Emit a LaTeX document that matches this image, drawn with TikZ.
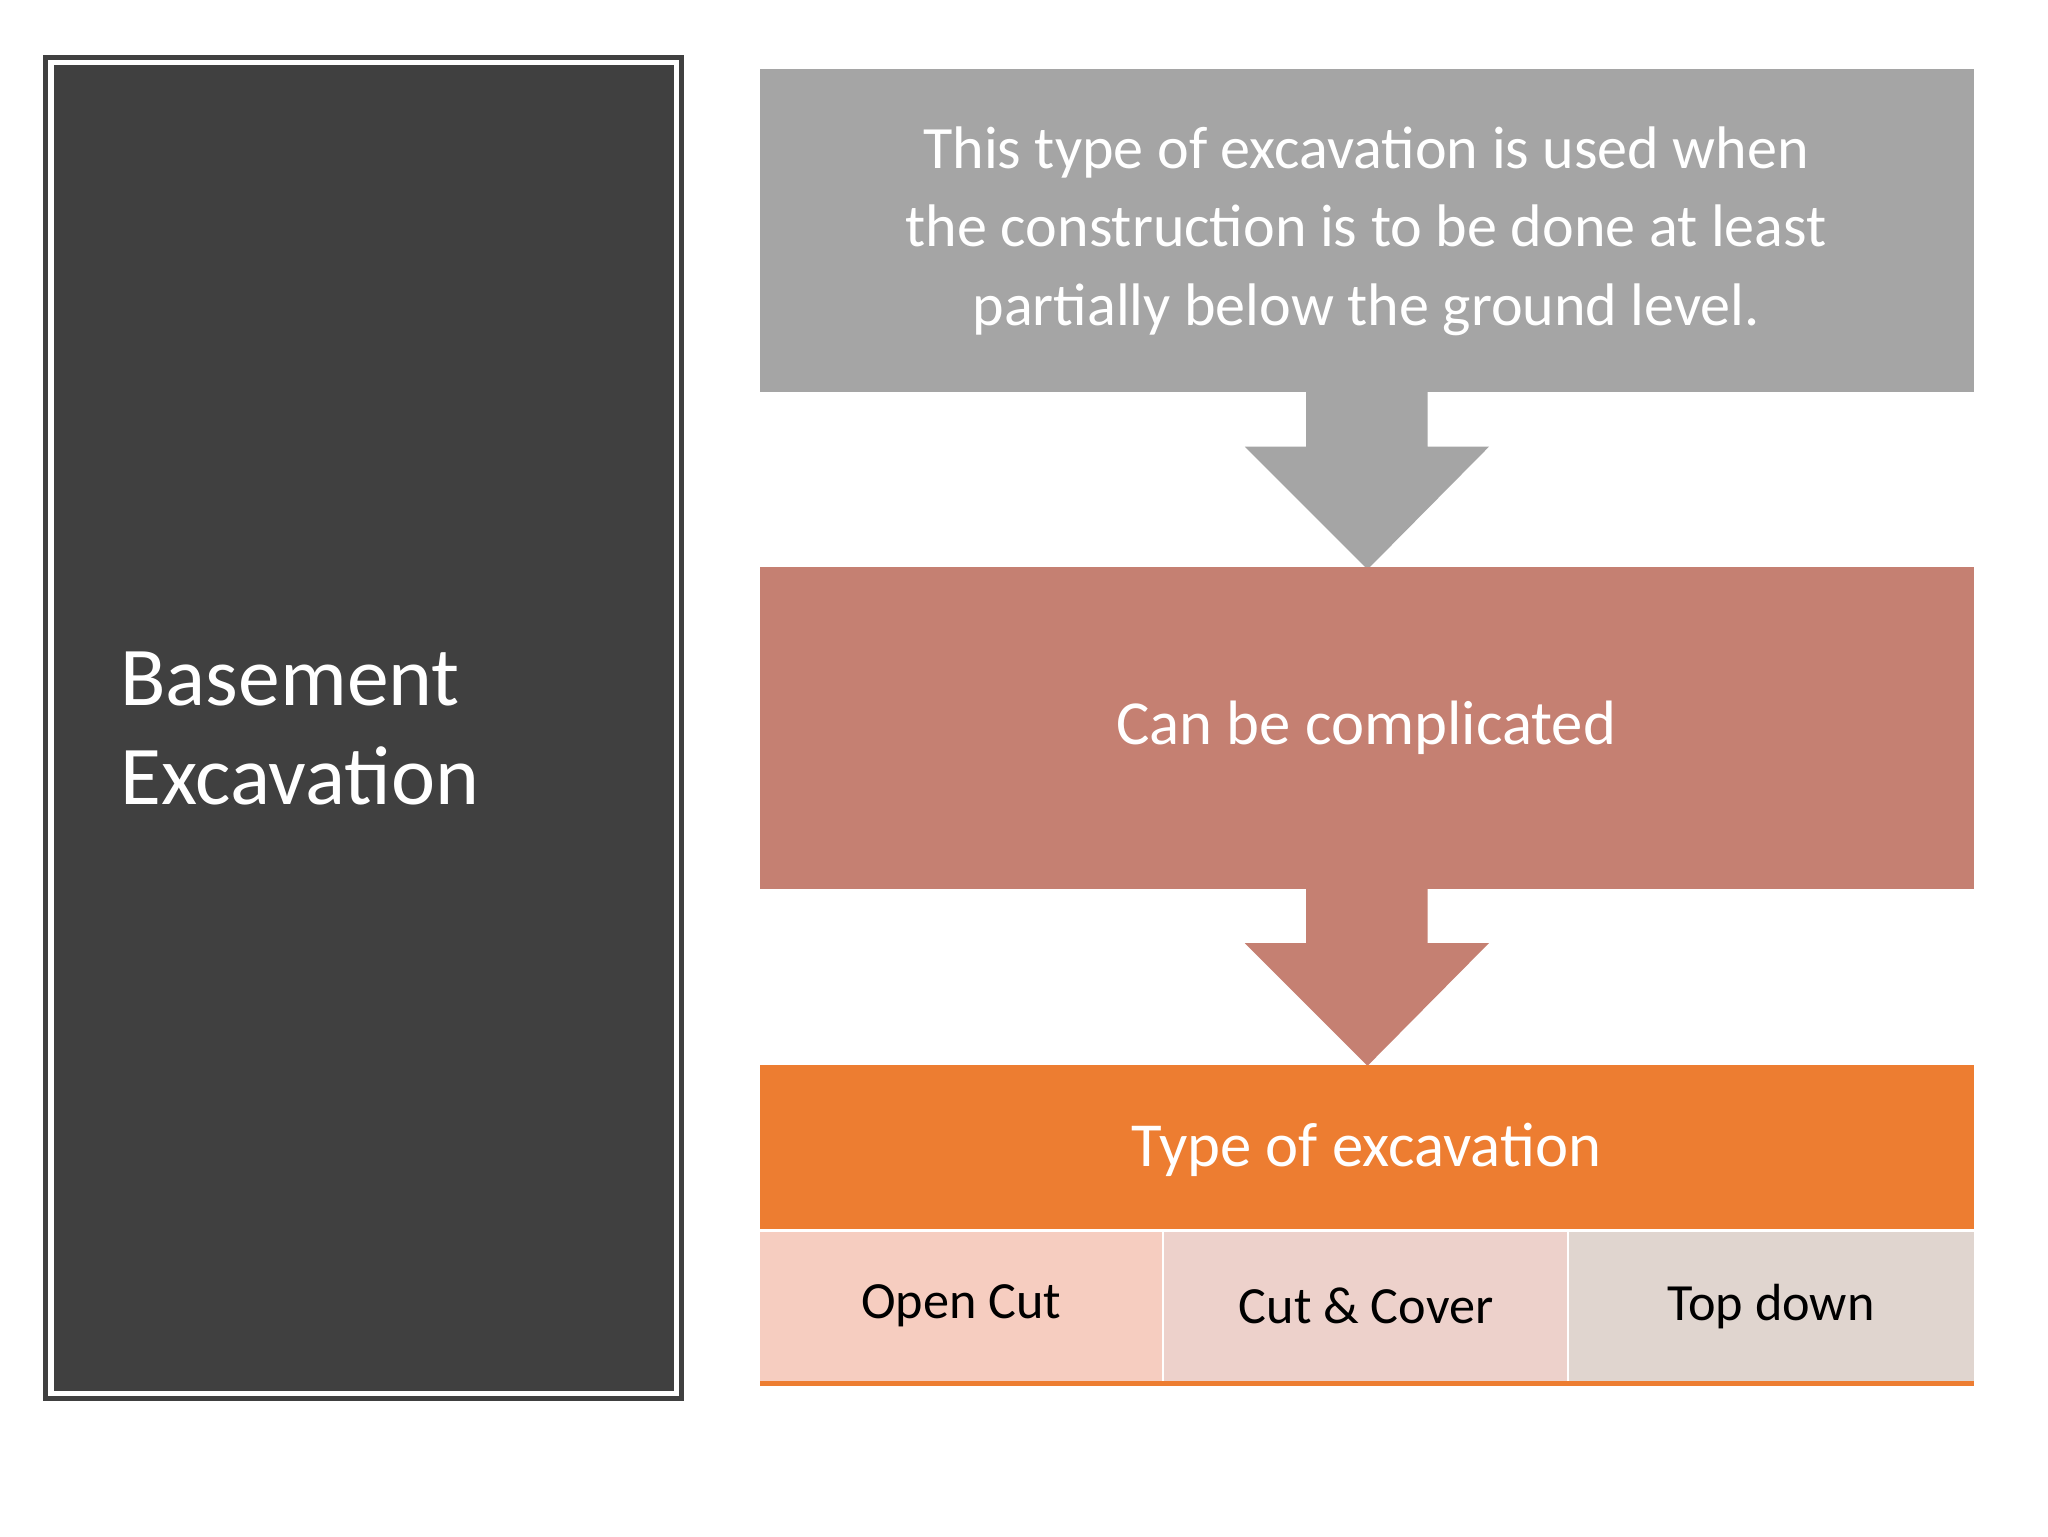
\documentclass[tikz,border=0pt]{standalone}
\usepackage{fontspec}
\setmainfont{Carlito}
\definecolor{dk}{HTML}{404040}
\definecolor{gr}{HTML}{A5A5A5}
\definecolor{rd}{HTML}{C58072}
\definecolor{og}{HTML}{ED7D31}
\definecolor{c1}{HTML}{F6CDC0}
\definecolor{c2}{HTML}{EDD1CB}
\definecolor{c3}{HTML}{E0D5CF}
\begin{document}
\begin{tikzpicture}[x=1pt,y=-1pt,
  box/.style={inner sep=0pt,outer sep=0pt,text=white,align=center},
  cell/.style={inner sep=0pt,outer sep=0pt,text=black,font=\fontsize{40}{48}\selectfont}]
\useasboundingbox[fill=white] (0,0) rectangle (1568,1176);
% left panel
\draw[dk,line width=4pt] (35,44) rectangle (522,1071);
\fill[dk] (41,50) rectangle (516,1065);
\node[anchor=west,text=white,align=left,font=\fontsize{64}{76}\selectfont,inner sep=0pt] (title) at (92,558) {Basement\\Excavation};
% boxes
\fill[gr] (582,53) rectangle (1511,300);
\node[box,font=\fontsize{46}{60}\selectfont] (t1) at (1046,177) {This type of excavation is used when\\the construction is to be done at least\\partially below the ground level.};
\fill[gr] (1000,299) -- (1093,299) -- (1093,342) -- (1140,342) -- (1047,436) -- (953,342) -- (1000,342) -- cycle;
\fill[rd] (582,434) rectangle (1511,681);
\node[box,font=\fontsize{48}{58}\selectfont] (t2) at (1046,557) {Can be complicated};
\fill[rd] (1000,680) -- (1093,680) -- (1093,722) -- (1140,722) -- (1047,816) -- (953,722) -- (1000,722) -- cycle;
\fill[og] (582,815) rectangle (1511,941);
\node[box,font=\fontsize{48}{58}\selectfont] (t3) at (1046,880) {Type of excavation};
\fill[c1] (582,943) rectangle (890,1057);
\fill[c2] (891,943) rectangle (1200,1057);
\fill[c3] (1201,943) rectangle (1511,1057);
\fill[og] (582,1057) rectangle (1511,1061);
\node[cell] (a) at (736,1000) {Open Cut};
\node[cell] (b) at (1046,1000) {Cut \& Cover};
\node[cell] (c) at (1356,1000) {Top down};
\end{tikzpicture}
\end{document}
